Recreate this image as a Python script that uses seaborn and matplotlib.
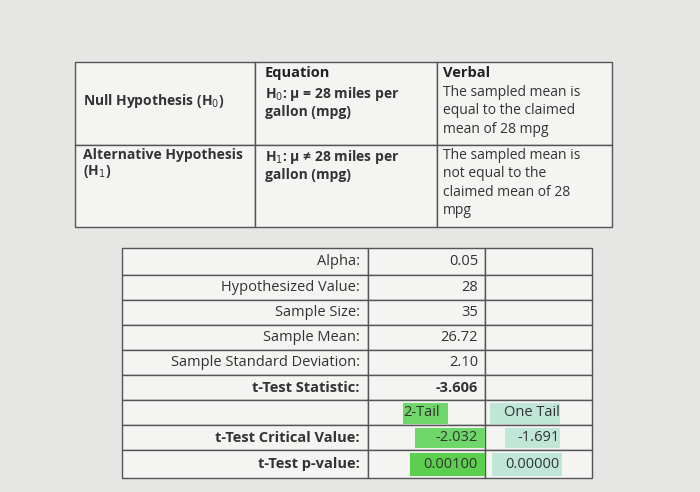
import matplotlib.pyplot as plt
import matplotlib.patches as mpatches
import seaborn as sns

sns.set_style("white")
plt.rcParams['font.family'] = ['Open Sans', 'DejaVu Sans']

# hypothesis table
hyp_names = ["Null Hypothesis (H$_0$)", "Alternative Hypothesis\n(H$_1$)"]
hyp_equations = ["H$_0$: μ = 28 miles per\ngallon (mpg)", "H$_1$: μ ≠ 28 miles per\ngallon (mpg)"]
hyp_verbal = ["The sampled mean is\nequal to the claimed\nmean of 28 mpg",
              "The sampled mean is\nnot equal to the\nclaimed mean of 28\nmpg"]

# t-test table
stat_labels = ["Alpha:", "Hypothesized Value:", "Sample Size:", "Sample Mean:",
               "Sample Standard Deviation:", "t-Test Statistic:", "",
               "t-Test Critical Value:", "t-Test p-value:"]
stat_values = ["0.05", "28", "35", "26.72", "2.10", "-3.606", "2-Tail", "-2.032", "0.00100"]
one_tail = ["", "", "", "", "", "", "One Tail", "-1.691", "0.00000"]
bold_rows = [5, 7, 8]

fig = plt.figure(figsize=(7, 4.92), dpi=100)
fig.patch.set_facecolor("#e6e6e4")
ax = fig.add_axes([0, 0, 1, 1])
ax.set_xlim(0, 700)
ax.set_ylim(492, 0)
ax.axis('off')

def box(x0, y0, x1, y1, fc="#f4f4f2"):
    ax.add_patch(mpatches.Rectangle((x0, y0), x1 - x0, y1 - y0, fc=fc, ec="#555555", lw=1))

# top table
cols = [75, 255, 437, 612]
rows = [62, 145, 227]
for r in range(2):
    for c in range(3):
        box(cols[c], rows[r], cols[c + 1], rows[r + 1])
ax.text(265, 73, "Equation", fontsize=10.5, weight='bold', color="#222", va='center')
ax.text(443, 73, "Verbal", fontsize=10.5, weight='bold', color="#222", va='center')
for i in range(2):
    y = 85 if i == 0 else 148
    yy = 92 if i == 0 else 148
    ax.text(83, yy, hyp_names[i], fontsize=10, weight='bold', color="#333",
            va='top', linespacing=1.1)
    ax.text(265, y, hyp_equations[i], fontsize=10, weight='bold', color="#333",
            va='top', linespacing=1.2)
    ax.text(443, y, hyp_verbal[i], fontsize=10, color="#333", va='top', linespacing=1.3)

# bottom table
bx = [122, 368, 485, 592]
by = [248, 275, 300, 325, 350, 375, 400, 425, 450, 478]
for r in range(9):
    for c in range(3):
        box(bx[c], by[r], bx[c + 1], by[r + 1])
# highlights
ax.add_patch(mpatches.Rectangle((403, 403), 45, 21, fc="#6fd66a", lw=0))
ax.add_patch(mpatches.Rectangle((490, 403), 70, 21, fc="#bfe6d6", lw=0))
ax.add_patch(mpatches.Rectangle((415, 428), 70, 20, fc="#6fd66a", lw=0))
ax.add_patch(mpatches.Rectangle((505, 428), 55, 20, fc="#bfe6d6", lw=0))
ax.add_patch(mpatches.Rectangle((410, 453), 75, 23, fc="#5ccf4e", lw=0))
ax.add_patch(mpatches.Rectangle((492, 453), 70, 23, fc="#bfe6d6", lw=0))
for r in range(9):
    yc = (by[r] + by[r + 1]) / 2
    w = 'bold' if r in bold_rows else 'normal'
    if stat_labels[r]:
        ax.text(360, yc, stat_labels[r], fontsize=10.5, ha='right', va='center',
                color="#333", weight=w)
    ax.text(478 if r != 6 else 403, yc, stat_values[r], fontsize=10.5,
            ha='right' if r != 6 else 'left', va='center', color="#333",
            weight='bold' if r == 5 else 'normal')
    if one_tail[r]:
        ax.text(560, yc, one_tail[r], fontsize=10.5, ha='right', va='center', color="#333")

fig.savefig("out.png", dpi=100, facecolor=fig.get_facecolor())
